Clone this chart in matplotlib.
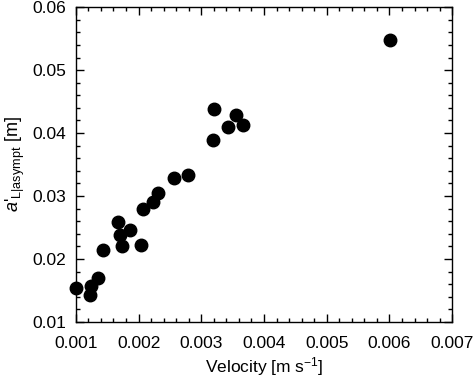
import matplotlib
matplotlib.use("Agg")
import matplotlib.pyplot as plt
from matplotlib.ticker import MultipleLocator, FormatStrFormatter

plt.rcParams["font.family"] = ["Liberation Sans", "DejaVu Sans"]
plt.rcParams["mathtext.fontset"] = "custom"
plt.rcParams["mathtext.rm"] = "Liberation Sans"
plt.rcParams["mathtext.it"] = "Liberation Sans:italic"

# data
velocity = [0.00101, 0.00124, 0.00122, 0.00136, 0.00143, 0.00167, 0.00170,
            0.00174, 0.00187, 0.00204, 0.00207, 0.00223, 0.00231, 0.00257,
            0.00279, 0.00320, 0.00356, 0.00343, 0.00366, 0.00318, 0.00601]
a_asympt = [0.0154, 0.0157, 0.0143, 0.0170, 0.0215, 0.0258, 0.0238,
            0.0220, 0.0246, 0.0223, 0.0279, 0.0290, 0.0305, 0.0328,
            0.0333, 0.0439, 0.0429, 0.0410, 0.0413, 0.0389, 0.0548]

fig = plt.figure(figsize=(4.74, 3.77), dpi=100)
ax = fig.add_axes([0.160, 0.146, 0.794, 0.835])

ax.plot(velocity, a_asympt, "o", color="black", markersize=9, clip_on=False)

ax.set_xlim(0.001, 0.007)
ax.set_ylim(0.01, 0.06)
ax.xaxis.set_major_locator(MultipleLocator(0.001))
ax.xaxis.set_minor_locator(MultipleLocator(0.0002))
ax.yaxis.set_major_locator(MultipleLocator(0.01))
ax.yaxis.set_minor_locator(MultipleLocator(0.002))
ax.xaxis.set_major_formatter(FormatStrFormatter("%.3f"))
ax.yaxis.set_major_formatter(FormatStrFormatter("%.2f"))

ax.tick_params(which="both", direction="in", top=True, right=True, labelsize=12.5)
ax.tick_params(which="major", length=6, width=1)
ax.tick_params(which="minor", length=3, width=1)
ax.tick_params(axis="x", pad=10)
ax.tick_params(axis="y", pad=7)
for s in ax.spines.values():
    s.set_linewidth(1)

ax.set_xlabel(r"Velocity [m s$^{-1}$]", fontsize=12.5, labelpad=3)
ax.set_ylabel(r"$a$'$_{\mathrm{L|asympt}}$ [m]", fontsize=13, labelpad=4)

fig.savefig("out.png", dpi=100)
plt.close(fig)
